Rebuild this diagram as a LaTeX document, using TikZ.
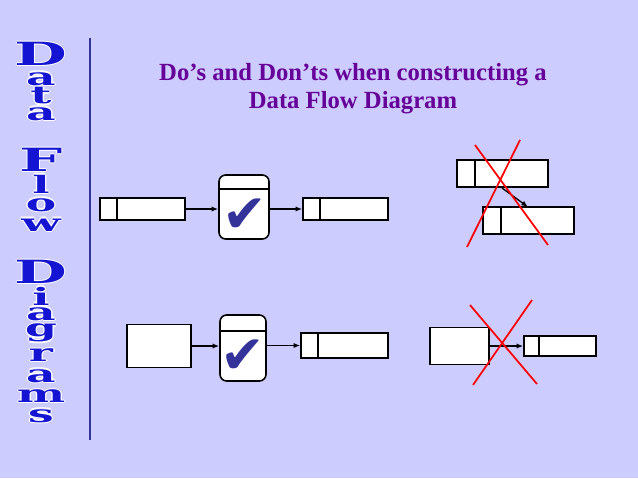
\documentclass[tikz,border=0pt]{standalone}
\usepackage{fontspec}
\setmainfont{Liberation Serif}
\newfontfamily\sidefont{DejaVu Serif}
\newfontfamily\symfont{DejaVu Sans}
\usetikzlibrary{arrows.meta,calc}
\definecolor{bg}{RGB}{204,204,255}
\definecolor{ttl}{RGB}{102,0,153}
\definecolor{navy}{RGB}{51,51,153}
\definecolor{sideblue}{RGB}{20,20,210}
\tikzset{
  box/.style={draw=black,line width=1.2pt,fill=white},
  flow/.style={line width=1pt,-{Latex[length=5pt,width=4pt]}},
  cross/.style={draw=red,line width=1.3pt},
  chk/.style={text=navy,font=\symfont\fontsize{40}{40}\selectfont},
  lt/.style={font=\sidefont\bfseries\fontsize{#1}{#1}\selectfont,inner sep=0pt,xscale=1.9},
}
\newcommand{\sideletter}[4]{%
  \foreach \dx/\dy in {-1.3/0,1.3/0,0/-1.3,0/1.3}
    \node[lt=#4,text=white] at ($(#1,#2)+(\dx,\dy)$) {#3};
  \node[lt=#4,text=sideblue] at (#1,#2) {#3};}
\begin{document}
\begin{tikzpicture}[x=0.75pt,y=-0.75pt]
\fill[bg] (0,0) rectangle (638,478);
\useasboundingbox (0,0) rectangle (638,478);
\draw[navy,line width=1.5pt] (90,38) -- (90,440);
% side letters
\sideletter{41}{54}{D}{24}
\sideletter{41}{79}{a}{18}
\sideletter{41}{96}{t}{18}
\sideletter{41}{114}{a}{18}
\sideletter{41}{160}{F}{24}
\sideletter{41}{184}{l}{18}
\sideletter{41}{205}{o}{18}
\sideletter{41}{225}{w}{18}
\sideletter{41}{272}{D}{24}
\sideletter{41}{296}{i}{18}
\sideletter{41}{314}{a}{18}
\sideletter{41}{333}{g}{18}
\sideletter{41}{355}{r}{18}
\sideletter{41}{376}{a}{18}
\sideletter{41}{396}{m}{18}
\sideletter{41}{416}{s}{18}
% title
\node[text=ttl,font=\bfseries\fontsize{18.5}{21}\selectfont,align=center] (title) at (353,89)
  {Do’s and Don’ts when constructing a\\Data Flow Diagram};
% row 1
\node[box,minimum width=63.75pt,minimum height=16.5pt,inner sep=0pt] (s1) at (142.5,209) {};
\draw[line width=1.2pt] (117,198) -- (117,220);
\node[box,rounded corners=5pt,minimum width=37.5pt,minimum height=48pt,inner sep=0pt] (p1) at (244,207) {};
\draw[line width=1.2pt] (219,189) -- (269,189);
\node[chk] at (245,216) {✔};
\node[box,minimum width=63.75pt,minimum height=16.5pt,inner sep=0pt] (s2) at (345.5,209) {};
\draw[line width=1.2pt] (320,198) -- (320,220);
\draw[flow] (s1.east) -- (s1.east -| p1.west);
\draw[flow] (s2.west -| p1.east) -- (s2.west);
% top right
\node[box,minimum width=68.25pt,minimum height=20.25pt,inner sep=0pt] (a1) at (502.5,173.5) {};
\draw[line width=1.2pt] (475,160) -- (475,187);
\node[box,minimum width=68.25pt,minimum height=20.25pt,inner sep=0pt] (a2) at (528.5,220.5) {};
\draw[line width=1.2pt] (501,207) -- (501,234);
\coordinate (af) at (502,188);
\coordinate (at) at (528,207);
\draw[flow] (af) -- (at);
\draw[cross] (520,140) -- (467,247);
\draw[cross] (475,145) -- (548,245);
% row 2
\node[box,minimum width=48pt,minimum height=32.25pt,inner sep=0pt] (e1) at (159,346) {};
\node[box,rounded corners=5pt,minimum width=34.5pt,minimum height=49.5pt,inner sep=0pt] (p2) at (243,348) {};
\draw[line width=1.2pt] (220,331) -- (266,331);
\node[chk] at (243,357) {✔};
\node[box,minimum width=65.25pt,minimum height=18.75pt,inner sep=0pt] (s3) at (344.5,345.5) {};
\draw[line width=1.2pt] (318,333) -- (318,358);
\draw[flow] (e1.east) -- (e1.east -| p2.west);
\draw[flow] (s3.west -| p2.east) -- (s3.west);
% bottom right
\node[box,minimum width=44.25pt,minimum height=27.75pt,inner sep=0pt] (e2) at (459.5,346) {};
\node[box,minimum width=54pt,minimum height=15pt,inner sep=0pt] (s4) at (560,346) {};
\draw[line width=1.2pt] (539,336) -- (539,356);
\draw[flow] (e2.east) -- (s4.west);
\draw[cross] (532,300) -- (473,385);
\draw[cross] (470,305) -- (537,384);
\end{tikzpicture}
\end{document}
